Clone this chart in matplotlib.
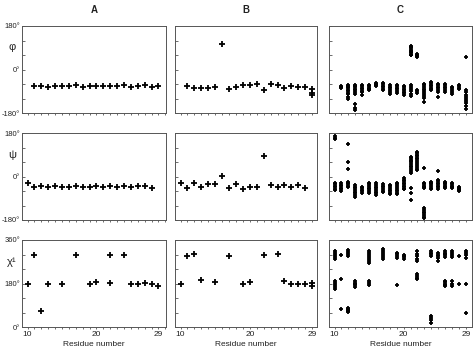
import numpy as np
import matplotlib
matplotlib.use('Agg')
import matplotlib.pyplot as plt
from matplotlib.ticker import MultipleLocator

plt.rcParams['font.family'] = ['Liberation Sans', 'DejaVu Sans']

# residues with a phi / psi value
phi_res = list(range(11, 30))
psi_res = list(range(10, 29))

# --- column A (single structure)
phi_a = [-68, -67, -72, -69, -68, -67, -66, -71, -68, -67, -67, -68, -67, -66, -71, -67, -66, -71, -70]
psi_a = [-25, -42, -40, -42, -41, -42, -42, -39, -42, -43, -40, -42, -40, -42, -40, -45, -41, -39, -47]
chi_a_res = [10, 11, 12, 13, 15, 17, 19, 20, 22, 22, 24, 25, 26, 27, 28, 29]
chi_a = [180, 298, 66, 180, 180, 300, 180, 187, 298, 183, 300, 180, 180, 183, 180, 170]

# --- column B (single structure)
phi_b_res = list(range(11, 30)) + [29, 29]
phi_b = [-67, -77, -77, -77, -73, 104, -80, -74, -65, -63, -60, -84, -60, -65, -78, -67, -73, -73, -80, -98, -104]
psi_b = [-25, -46, -28, -42, -33, -32, 3, -48, -30, -53, -42, -42, 83, -37, -42, -37, -42, -37, -48]
chi_b_res = [10, 11, 12, 13, 15, 17, 19, 20, 22, 24, 25, 26, 27, 28, 29, 29]
chi_b = [180, 295, 302, 194, 187, 293, 180, 187, 298, 302, 190, 180, 180, 180, 183, 169]

# --- column C (ensemble), one list per residue
phi_c = [
    [-68, -71, -74, -77],
    [-63, -68, -73, -78, -84, -90, -96, -100, -114, -123],
    [-63, -68, -74, -80, -86, -92, -100, -141, -159, -169],
    [-63, -69, -75, -81, -88, -95, -104],
    [-65, -70, -76, -81, -86],
    [-56, -60, -64, -68],
    [-56, -61, -67, -73, -79, -86],
    [-65, -71, -78, -85, -92, -100],
    [-63, -69, -75, -82, -89, -96],
    [-68, -74, -80, -86, -93, -99, -104],
    [97, 92, 87, 82, 77, 72, 67, 62, 59, -63, -72, -80, -90, -100, -110],
    [65, 60, 55, 50, -86, -91, -96],
    [-59, -65, -72, -79, -86, -93, -100, -108, -116, -134],
    [-52, -57, -63, -69, -75, -81, -86],
    [-59, -65, -71, -78, -85, -92, -114],
    [-59, -65, -71, -77, -84, -93],
    [-72, -78, -85, -92, -100],
    [-65, -70, -75, -79],
    [52, -86, -95, -104, -113, -122, -131, -140, -150, -162],
]
psi_c = [
    [168, 160, 154, -26, -32, -38, -44, -50, -56],
    [-28, -34, -40, -46, -52, -59],
    [134, 61, 32, -21, -27, -33, -38, -42],
    [-35, -42, -49, -56, -63, -70, -77, -83],
    [-42, -48, -54, -60, -67],
    [-26, -32, -39, -46, -53, -60, -67],
    [-28, -35, -42, -49, -56, -63, -70, -77],
    [-31, -38, -45, -52, -58, -63],
    [-35, -41, -48, -55, -62, -67, -72],
    [-26, -33, -40, -47, -54, -61, -67, -72],
    [-8, -14, -20, -26, -32, -38, -44, -50, -53],
    [82, 76, 70, 64, 58, 52, 45, 38, 30, 22, 13, -49, -70, -97],
    [103, 97, 91, 85, 78, 71, 64, 56, 48, 40, 33, 27],
    [34, -26, -32, -38, -44, -49, -132, -139, -146, -153, -160, -167, -173],
    [-21, -27, -33, -39, -46, -53],
    [24, -14, -20, -26, -32, -38, -45, -53],
    [-21, -27, -33, -39, -44, -49],
    [-28, -33, -38, -43, -49],
    [-42, -47, -52, -56, -59],
]
chi_c_res = [10, 11, 12, 13, 15, 17, 19, 20, 22, 24, 25, 26, 27, 28, 29]
chi_c = [
    [314, 306, 298, 290, 280, 190, 182, 174, 166, 156],
    [297, 200, 73],
    [319, 311, 303, 294, 80, 75, 70, 66, 62],
    [190, 184, 178, 172, 167],
    [314, 306, 298, 290, 282, 274, 266, 190, 181, 172],
    [321, 313, 305, 297, 290, 283],
    [308, 301, 294, 287, 172],
    [300, 294, 289, 283],
    [314, 304, 294, 283, 273, 218, 211, 204, 197],
    [314, 308, 301, 294, 46, 37, 28, 18],
    [308, 300, 292, 284, 273],
    [314, 308, 302, 296, 291, 190, 185, 180, 175, 170],
    [314, 307, 300, 291, 190, 180, 170],
    [294, 177],
    [314, 305, 296, 287, 177, 59],
]

col_titles = ['A', 'B', 'C']
row_labels = ['φ', 'ψ', 'χ¹']
xlims = [(9.2, 30.1), (9.2, 29.7), (9.2, 29.9)]

W, H = 474, 348
col_px = [(22, 166), (175, 317), (329, 472)]
row_px = [(26, 113), (133, 220), (240, 327)]


def flat(res, groups):
    xs = np.repeat(res, [len(g) for g in groups])
    ys = np.concatenate([np.asarray(g, float) for g in groups])
    return xs, ys


fig = plt.figure(figsize=(W / 100, H / 100), dpi=100)

data = [
    [(phi_res, phi_a), (phi_b_res, phi_b), flat(phi_res, phi_c)],
    [(psi_res, psi_a), (psi_res, psi_b), flat(psi_res, psi_c)],
    [(chi_a_res, chi_a), (chi_b_res, chi_b), flat(chi_c_res, chi_c)],
]

for r in range(3):
    for c in range(3):
        x0, x1 = col_px[c]
        y0, y1 = row_px[r]
        ax = fig.add_axes([x0 / W, 1 - y1 / H, (x1 - x0) / W, (y1 - y0) / H])
        xs, ys = data[r][c]
        ms = 3.8 if c < 2 else 3.5
        ax.plot(xs, ys, ls='none', marker='+', ms=ms, mew=1.3, color='black')
        ax.set_xlim(*xlims[c])
        if r < 2:
            ax.set_ylim(-180, 180)
            ax.set_yticks([-180, 0, 180])
            ylabs = ['-180°', '0°', '180°']
        else:
            ax.set_ylim(0, 360)
            ax.set_yticks([0, 180, 360])
            ylabs = ['0°', '180°', '360°']
        ax.yaxis.set_minor_locator(MultipleLocator(60))
        ax.set_xticks([10, 20, 29])
        ax.xaxis.set_minor_locator(MultipleLocator(1))
        ax.tick_params(axis='y', which='both', direction='in', length=2.5, width=0.6,
                       color='#555', labelsize=5.5, pad=1.5, labelcolor='#222')
        ax.tick_params(axis='x', which='both', direction='out', length=1.5, width=0.6,
                       color='#555', labelsize=6, pad=1.5, labelcolor='#222')
        if c == 0:
            ax.set_yticklabels(ylabs)
        else:
            ax.set_yticklabels([])
        if r == 2:
            ax.set_xticklabels(['10', '20', '29'])
            ax.set_xlabel('Residue number', fontsize=6, labelpad=2, color='#222')
        else:
            ax.set_xticklabels([])
        for s in ax.spines.values():
            s.set_linewidth(0.7)
            s.set_color('#555')
        if r == 0:
            fig.text((x0 + x1) / 2 / W, 1 - 10 / H, col_titles[c], ha='center', va='center',
                     fontsize=7, fontweight='bold', color='#222')

# row labels placed beside the left tick labels
for lab, yp in zip(row_labels, [47, 155, 262]):
    fig.text(12 / W, 1 - yp / H, lab, ha='center', va='center', fontsize=8, color='#222')

fig.savefig('out.png', dpi=100)
